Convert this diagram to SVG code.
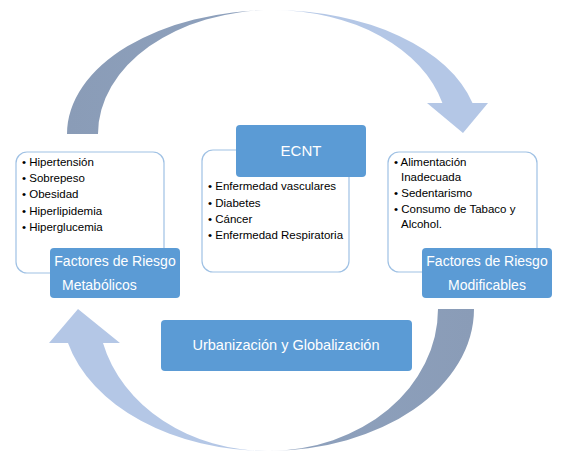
<svg xmlns="http://www.w3.org/2000/svg" width="564" height="457" viewBox="0 0 564 457">
<style>
.card{fill:#ffffff;stroke:#9fc1e4;stroke-width:1.2}
.lbl{fill:#5b9bd5}
.bt{font-family:"Liberation Sans",Arial,sans-serif;font-size:11.5px;fill:#000}
.wt{font-family:"Liberation Sans",Arial,sans-serif;font-size:14px;fill:#ffffff}
</style>
<defs>
<linearGradient id="gTop" gradientUnits="userSpaceOnUse" x1="67" y1="0" x2="488" y2="0">
<stop offset="0" stop-color="#8a9cb7"/>
<stop offset="0.43" stop-color="#8ea1bd"/>
<stop offset="0.49" stop-color="#eef2f8"/>
<stop offset="0.55" stop-color="#b4c7e6"/>
<stop offset="1" stop-color="#b4c7e6"/>
</linearGradient>
<linearGradient id="gBot" gradientUnits="userSpaceOnUse" x1="49" y1="0" x2="474" y2="0">
<stop offset="0" stop-color="#b4c7e6"/>
<stop offset="0.47" stop-color="#b4c7e6"/>
<stop offset="0.515" stop-color="#eef2f8"/>
<stop offset="0.57" stop-color="#8ea1bd"/>
<stop offset="1" stop-color="#8a9cb7"/>
</linearGradient>
</defs>
<g id="connectors">
<path id="arc-top" fill="url(#gTop)" d="M67,134 A206,124 0 0 1 273,10 A206,124 0 0 1 472.5,103 L488,103 L463,133 L427,103 L442.4,103 A175,124 0 0 0 273,10 A175,124 0 0 0 98,134 Z"/>
<path id="arc-bottom" fill="url(#gBot)" d="M474,309 A206,142 0 0 1 268,451 A206,142 0 0 1 68,343 L49,343 L78,309 L120,343 L103,343 A170,142 0 0 0 268,451 A170,142 0 0 0 438,309 Z"/>
</g>
<g id="metabolicos">
<rect class="card" x="16" y="152" width="148" height="121" rx="11"/>
<text class="bt"><tspan x="22" y="166">• Hipertensión</tspan><tspan x="22" y="182">• Sobrepeso</tspan><tspan x="22" y="198">• Obesidad</tspan><tspan x="22" y="214.5">• Hiperlipidemia</tspan><tspan x="22" y="231">• Hiperglucemia</tspan></text>
<rect class="lbl" x="50" y="248" width="130" height="50" rx="4"/>
<text class="wt" x="115" y="266" text-anchor="middle">Factores de Riesgo</text>
<text class="wt" x="62" y="290">Metabólicos</text>
</g>
<g id="ecnt">
<rect class="card" x="202" y="150" width="147" height="122" rx="11"/>
<rect class="lbl" x="236" y="125" width="130" height="52" rx="4"/>
<text class="wt" x="301" y="156" text-anchor="middle" style="font-size:15px">ECNT</text>
<text class="bt"><tspan x="208" y="190">• Enfermedad vasculares</tspan><tspan x="208" y="206.5">• Diabetes</tspan><tspan x="208" y="222.5">• Cáncer</tspan><tspan x="208" y="239">• Enfermedad Respiratoria</tspan></text>
</g>
<g id="modificables">
<rect class="card" x="388" y="152" width="149" height="120" rx="11"/>
<text class="bt"><tspan x="394" y="166">• Alimentación</tspan><tspan x="401" y="181">Inadecuada</tspan><tspan x="394" y="197">• Sedentarismo</tspan><tspan x="394" y="213">• Consumo de Tabaco y</tspan><tspan x="401" y="228">Alcohol.</tspan></text>
<rect class="lbl" x="422" y="248" width="130" height="50" rx="4"/>
<text class="wt" x="487" y="266" text-anchor="middle">Factores de Riesgo</text>
<text class="wt" x="487" y="290" text-anchor="middle">Modificables</text>
</g>
<g id="urbanizacion">
<rect class="lbl" x="161" y="320" width="251" height="51" rx="4"/>
<text class="wt" x="286" y="350" text-anchor="middle" style="font-size:14.5px">Urbanización y Globalización</text>
</g>
</svg>
